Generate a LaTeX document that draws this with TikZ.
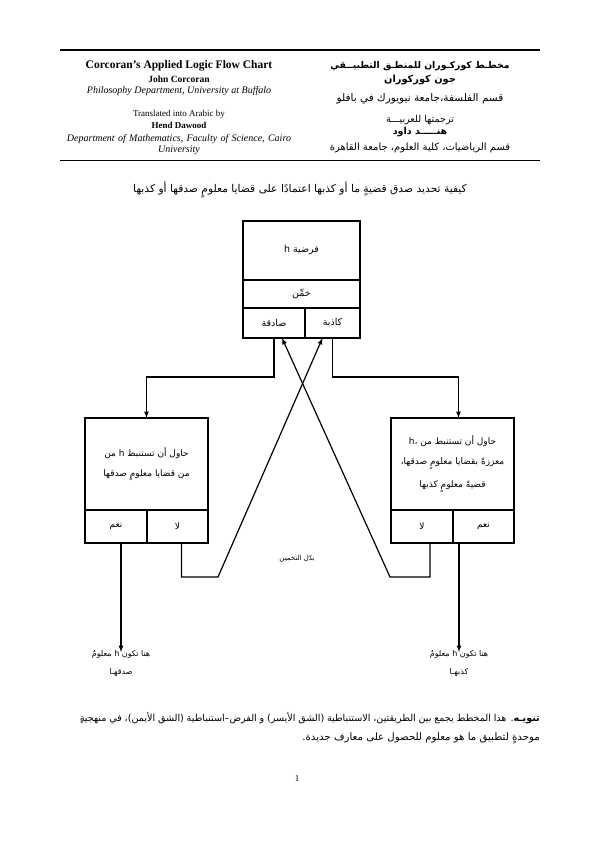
\documentclass[tikz,border=0pt]{standalone}
\usepackage{fontspec}
\setmainfont{Liberation Serif}
\newfontfamily\arabicfont[Script=Arabic]{DejaVu Sans}
\TeXXeTstate=1
\usetikzlibrary{positioning,arrows}
\newcommand{\ar}[1]{{\arabicfont\beginR #1\endR}}
\newcommand{\fsz}[1]{\fontsize{#1}{#1}\selectfont}

\begin{document}
\begin{tikzpicture}[x=1pt,y=-1pt,>=latex,
  cell box/.style={draw,line width=1.6pt,inner sep=0pt,outer sep=0pt,align=center,font=\fsz{9}},
  flow/.style={line width=1.2pt},
  plain text/.style={inner sep=0pt,align=center}]

  \useasboundingbox (0,0) rectangle (595,842);

  % header
  \draw[line width=2.5pt] (60,50) -- (540,50);
  \draw[line width=0.8pt] (60,160) -- (540,160);

  \node[plain text,font=\bfseries\fsz{11.5}] (entitle) at (179,66) {Corcoran's Applied Logic Flow Chart};
  \node[plain text,font=\bfseries\fsz{9.5}] (enauthor) at (179,79) {John Corcoran};
  \node[plain text,font=\itshape\fsz{10}] (endept) at (179,91) {Philosophy Department, University at Buffalo};
  \node[plain text,font=\fsz{9}] (entrans) at (179,114) {Translated into Arabic by};
  \node[plain text,font=\bfseries\fsz{9}] (entranslator) at (179,125) {Hend Dawood};
  \node[plain text,font=\itshape\fsz{10},text width=240pt,align=center] (enuniv) at (179,145)
    {Department of Mathematics, Faculty of Science, Cairo\\[1pt] University};

  \node[plain text,font=\bfseries\fsz{9.3}] (artitle) at (420,66) {\ar{مخطـط كوركـوران للمنطـق التطبيــقي}};
  \node[plain text,font=\bfseries\fsz{9.8}] (arauthor) at (420,80) {\ar{جون كوركوران}};
  \node[plain text,font=\fsz{10.5}] (ardept) at (420,99) {\ar{قسم الفلسفة،جامعة نيويورك في بافلو}};
  \node[plain text,font=\fsz{9.6}] (artrans) at (420,120) {\ar{ترجمتها للعربيـــة}};
  \node[plain text,font=\bfseries\fsz{9.5}] (artranslator) at (420,132) {\ar{هنـــــد داود}};
  \node[plain text,font=\fsz{10}] (aruniv) at (420,148) {\ar{قسم الرياضيات، كلية العلوم، جامعة القاهرة}};

  % caption
  \node[plain text,font=\fsz{10.7}] (caption) at (300,190)
    {\ar{كيفية تحديد صدق قضيةٍ ما أو كذبها اعتمادًا على قضايا معلومٍ صدقها أو كذبها}};

  % hypothesis box
  \node[cell box,font=\fsz{9.5},minimum width=117pt,minimum height=59pt,anchor=north west] (hyp) at (243,221) {\ar{فرضية h}};
  \node[cell box,font=\fsz{9.5},minimum width=117pt,minimum height=28pt,below=0pt of hyp] (guess) {\ar{خمِّن}};
  \node[cell box,font=\fsz{9.5},minimum width=62pt,minimum height=30pt,below right=0pt and 0pt of guess.south west] (true) {\ar{صادقة}};
  \node[cell box,font=\fsz{9.5},minimum width=55pt,minimum height=30pt,right=0pt of true] (false) {\ar{كاذبة}};

  % deduction box (left)
  \node[cell box,minimum width=123pt,minimum height=92pt,anchor=north west] (lmain) at (85,418)
    {\ar{حاول أن تستنبط h من}\\[10pt]\ar{من قضايا معلومٍ صدقها}};
  \node[cell box,minimum width=62pt,minimum height=33pt,below right=0pt and 0pt of lmain.south west] (lyes) {\ar{نعم}};
  \node[cell box,minimum width=61pt,minimum height=33pt,right=0pt of lyes] (lno) {\ar{لا}};

  % refutation box (right)
  \node[cell box,minimum width=123pt,minimum height=92pt,anchor=north west] (rmain) at (391,418)
    {\ar{حاول أن تستنبط من h،}\\[10pt]\ar{معززةً بقضايا معلومٍ صدقها،}\\[10pt]\ar{قضيةً معلومٍ كذبها}};
  \node[cell box,minimum width=62pt,minimum height=33pt,below right=0pt and 0pt of rmain.south west] (rno) {\ar{لا}};
  \node[cell box,minimum width=61pt,minimum height=33pt,right=0pt of rno] (ryes) {\ar{نعم}};

  % results
  \node[plain text,font=\fsz{8},anchor=north] (lres) at (121,650)
    {\ar{هنا تكون h معلومٌ}\\[9pt]\ar{صدقهـا}};
  \node[plain text,font=\fsz{8},anchor=north] (rres) at (459,650)
    {\ar{هنا تكون h معلومٌ}\\[9pt]\ar{كذبهـا}};
  \node[plain text,font=\fsz{7}] (swap) at (297,559) {\ar{بدّل التخمين}};

  \coordinate (lturn) at (218,577);
  \coordinate (rturn) at (390,577);

  \draw[flow,->] (true.south) -- ++(0,39) -| (lmain.north);
  \draw[flow,->] (false.south) -- ++(0,39) -| ([xshift=6pt]rmain.north);
  \draw[flow,->] ([xshift=4pt]lno.south) |- (lturn) -- ([xshift=-10pt]false.south);
  \draw[flow,->] ([xshift=8pt]rno.south) |- (rturn) -- ([xshift=8pt]true.south);
  \draw[flow,->] (lyes.south -| lres.north) -- ([yshift=-2pt]lres.north);
  \draw[flow,->] (ryes.south -| rres.north) -- ([yshift=-2pt]rres.north);

  % note
  \node[plain text,anchor=east,font=\fsz{9.6}] (note1) at (540,718)
    {\makebox[460pt][s]{\arabicfont\beginR{\bfseries تنويـه}. هذا المخطط يجمع بين الطريقتين، الاستنباطية (الشق الأيسر) و الفرض–استنباطية (الشق الأيمن)، في منهجيةٍ\endR}};
  \node[plain text,anchor=east,font=\fsz{10.2}] (note2) at (540,738)
    {\ar{موحدةٍ لتطبيق ما هو معلوم للحصول على معارف جديدة.}};

  \node[plain text,font=\fsz{9}] (pagenum) at (297,779) {1};
\end{tikzpicture}
\end{document}
